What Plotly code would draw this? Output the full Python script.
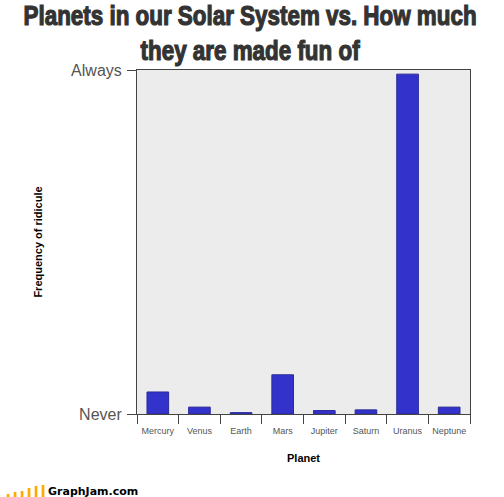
import plotly.graph_objects as go

planets = ["Mercury", "Venus", "Earth", "Mars", "Jupiter", "Saturn", "Uranus", "Neptune"]
ridicule = [6.4, 2.0, 0.4, 11.4, 1.0, 1.2, 98.8, 2.0]
freq_ticks = [0, 100]
freq_labels = ["Never", "Always"]
logo_heights = [3, 5, 6, 9, 11, 12]  # orange GraphJam signal bars, px

W, H = 504, 497
colors = {'bar': '#3333cc', 'bar_edge': '#2a2a99', 'plot': '#ececec', 'axis': '#444444',
          'label': '#555555', 'title': '#333333', 'logo': '#ffaa00'}

fig = go.Figure(go.Bar(x=planets, y=ridicule, width=0.52,
                       marker=dict(color=colors['bar'], line=dict(color=colors['bar_edge'], width=1))))

fig.update_xaxes(type="category", tickson="boundaries", ticks="outside", ticklen=9, tickwidth=1, tickangle=0,
                 ticklabelstandoff=8,
                 tickcolor=colors['axis'], showline=True, linewidth=1, linecolor=colors['axis'], mirror=True,
                 tickfont=dict(family="Liberation Sans", size=9, color=colors['label']),
                 title=dict(text="<b>Planet</b>", standoff=19,
                            font=dict(family="Liberation Sans", size=11, color="black")))
fig.update_yaxes(range=[0, 100], tickvals=freq_ticks, ticktext=freq_labels, ticks="outside", ticklen=9, tickwidth=1,
                 ticklabelstandoff=2,
                 tickcolor=colors['axis'], showline=True, linewidth=1, linecolor=colors['axis'], mirror=True,
                 showgrid=False, zeroline=False,
                 tickfont=dict(family="Liberation Sans", size=16, color=colors['label']),
                 title=dict(text="<b>Frequency of ridicule</b>", standoff=26,
                            font=dict(family="Liberation Sans", size=11, color="black")))

# impact-style heading, Impact isn't installed so it gets squeezed below
fig.add_annotation(text="<b>Planets in our Solar System vs. How much<br>they are made fun of</b>",
                   xref="paper", yref="paper", x=(250 - 136.5) / 333.5, xanchor="center", y=1, yanchor="bottom", yshift=2,
                   showarrow=False, align="center",
                   font=dict(family="Liberation Sans", size=27, color=colors['title']))

# footer logo
x0 = 6
for h in logo_heights:
    fig.add_shape(type="rect", xref="paper", yref="paper", line_width=0, fillcolor=colors['logo'],
                  x0=(x0 - 136.5) / 333.5, x1=(x0 + 2.7 - 136.5) / 333.5,
                  y0=(414 - 497) / 344, y1=(414 - 497 + h) / 344)
    x0 += 7
fig.add_annotation(text="<b>GraphJam.com</b>", xref="paper", yref="paper", x=(45 - 136.5) / 333.5, xanchor="left",
                   y=(414 - 491) / 344, yanchor="middle", showarrow=False,
                   font=dict(family="DejaVu Sans", size=11, color="black"))

fig.update_layout(width=W, height=H, showlegend=False, autosize=False,
                  margin=dict(l=136.5, r=34, t=70, b=83, autoexpand=False),
                  plot_bgcolor=colors['plot'], paper_bgcolor='white')

# page margin off, and condense + thicken the heading
page_css = """
var s = document.createElement('style');
s.textContent = "body{margin:0} .annotation[data-index='0'] text{transform-box:fill-box;transform-origin:center;"
  + "transform:scaleX(0.83);stroke:#333333;stroke-width:1.2px}";
document.head.appendChild(s);
"""
fig.write_html("out.html", config=dict(displayModeBar=False), post_script=page_css)
